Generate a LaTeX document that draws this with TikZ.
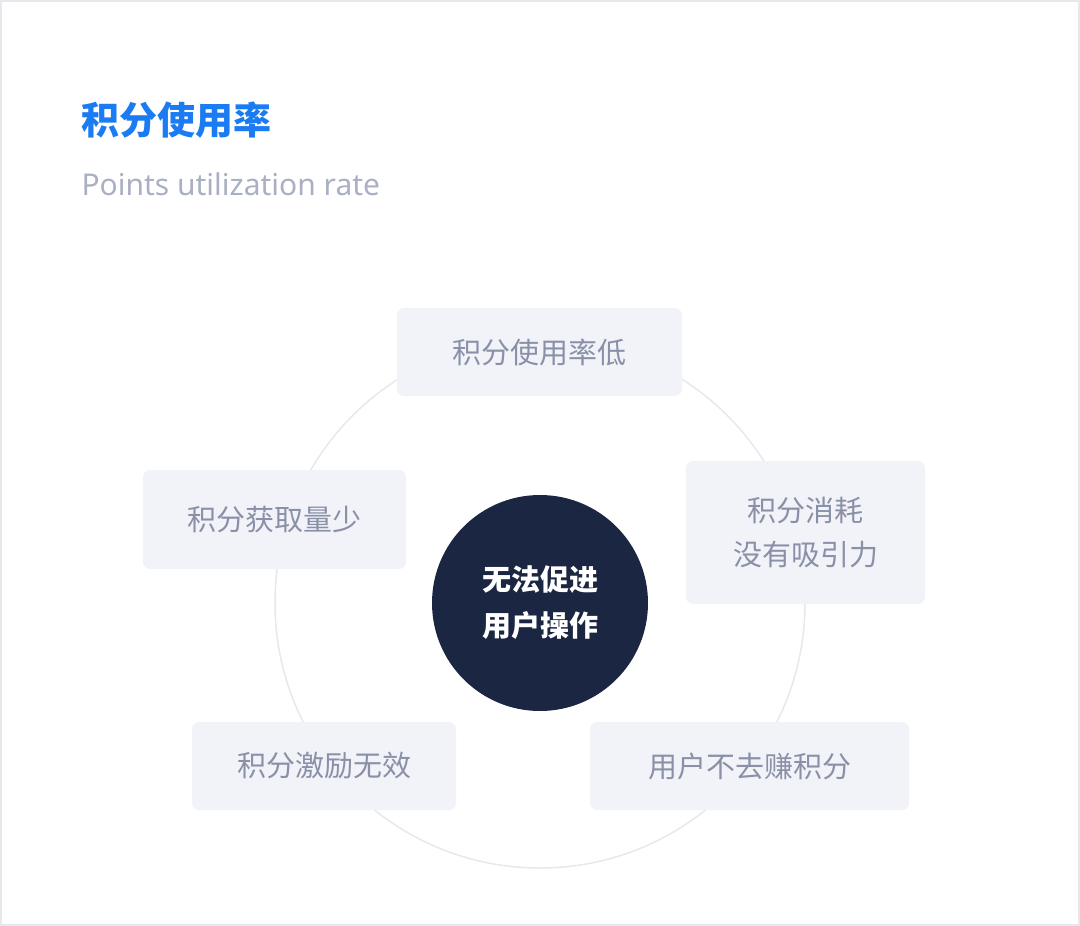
\documentclass[tikz,border=0pt]{standalone}
\usepackage{fontspec}
\setmainfont{Noto Sans CJK SC}
\newfontfamily\latinf{Noto Sans}
\definecolor{boxfill}{HTML}{F2F3F8}
\definecolor{boxtext}{HTML}{8A90A8}
\definecolor{navy}{HTML}{1B2642}
\definecolor{titleblue}{HTML}{1A7BF2}
\definecolor{subgray}{HTML}{A9B0C4}
\definecolor{ringgray}{HTML}{E6E8EE}
\begin{document}
\begin{tikzpicture}[x=1pt,y=-1pt,
  card/.style={fill=boxfill,rounded corners=7pt,text=boxtext,font=\fontsize{29}{44}\selectfont,align=center,inner sep=0pt}]
\useasboundingbox (0,0) rectangle (1080,926);
\draw[ringgray,line width=1.2pt] (1,1) rectangle (1079,925);
\node[anchor=west,text=titleblue,font=\fontsize{38}{44}\selectfont\bfseries] (title) at (78,120) {积分使用率};
\node[anchor=west,text=subgray,font=\latinf\fontsize{30}{36}\selectfont] (sub) at (78,184) {Points utilization rate};
\node[draw=ringgray,line width=1.5pt,circle,minimum size=530pt] (ring) at (540,603) {};
\node[card,minimum width=285pt,minimum height=88pt] (b1) at (539.5,352) {积分使用率低};
\node[card,minimum width=263pt,minimum height=99pt] (b2) at (274.5,519.5) {积分获取量少};
\node[card,minimum width=239pt,minimum height=143pt] (b3) at (805.5,532.5) {积分消耗\\没有吸引力};
\node[card,minimum width=264pt,minimum height=88pt] (b4) at (324,766) {积分激励无效};
\node[card,minimum width=319pt,minimum height=88pt] (b5) at (749.5,766) {用户不去赚积分};
\node[circle,fill=navy,minimum size=216pt,text=white,align=center,font=\fontsize{29}{46}\selectfont\bfseries] (c) at (540,603) {无法促进\\用户操作};
\end{tikzpicture}
\end{document}
